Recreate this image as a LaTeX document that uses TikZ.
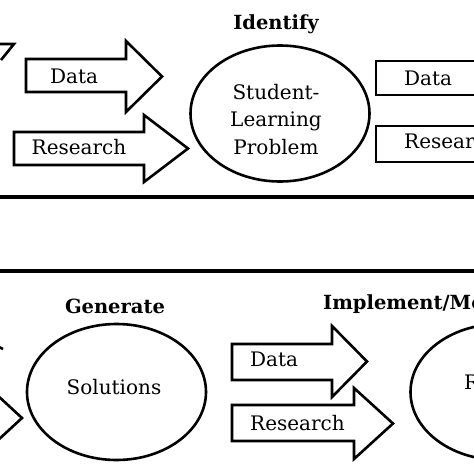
\documentclass[tikz,border=0pt]{standalone}
\usepackage{fontspec}
\setmainfont{DejaVu Serif}
\usetikzlibrary{shapes.geometric}
\begin{document}
\begin{tikzpicture}[x=1pt,y=-1pt,
	outline/.style={line width=2.6pt,line join=miter},
	bar/.style={line width=4.5pt},
	oval/.style={draw,ellipse,line width=2.6pt,minimum width=179pt,minimum height=136pt,inner sep=0pt},
	lbl/.style={font=\fontsize{20}{27.5}\selectfont,inner sep=0pt,anchor=base},
	hdr/.style={font=\fontsize{19.5}{23}\selectfont\bfseries,inner sep=0pt,anchor=base}]
	\useasboundingbox (0,0) rectangle (474,474);
	\clip (0,0) rectangle (474,474);
	\fill[white] (0,0) rectangle (474,474);
	% block arrows: tail, head base, tip, shaft top/bottom, head top/bottom
	\foreach \xa/\xb/\xt/\st/\sb/\ht/\hb in {26/126/162/59/92/41/112, 14/144/188/132/165/115/182,
		232/332/367/344/380/326/397, 232/354/393/405/441/388/459}
		\draw[outline] (\xa,\st)--(\xb,\st)--(\xb,\ht)--(\xt,{(\ht+\hb)/2})--(\xb,\hb)--(\xb,\sb)--(\xa,\sb)--cycle;
	\draw[outline] (490,61)--(376,61)--(376,95)--(490,95);
	\draw[outline] (490,126)--(376,126)--(376,162)--(490,162);
	\draw[outline] (0,44)--(14,44)--(1,60);
	\draw[outline] (-4,394)--(22,418)--(-4,442);
	\draw[outline] (-1,347)--(3,349);
	\draw[bar] (0,197)--(474,197);
	\draw[bar] (0,271)--(474,271);
	\node[oval] (problem) at (280,113.5) {};
	\node[oval] (solutions) at (116.5,392) {};
	\node[oval] (results) at (500,392) {};
	\node[hdr] (identify) at (276,29) {Identify};
	\node[lbl,align=center] (problemtxt) at (276,154) {Student-\\Learning\\Problem};
	\node[hdr] (generate) at (115,313) {Generate};
	\node[hdr,anchor=base west] (implement) at (323,309) {Implement/Monitor};
	\node[lbl] (solutionstxt) at (114,394) {Solutions};
	\node[lbl,anchor=base west] (resultstxt) at (464,389) {R};
	\node[lbl] (dataA) at (74,83) {Data};
	\node[lbl] (researchA) at (79,154) {Research};
	\node[lbl,anchor=base west] (dataB) at (404,85) {Data};
	\node[lbl,anchor=base west] (researchB) at (404,148) {Research};
	\node[lbl,anchor=base west] (dataC) at (250,366) {Data};
	\node[lbl,anchor=base west] (researchC) at (250,430) {Research};
\end{tikzpicture}
\end{document}
